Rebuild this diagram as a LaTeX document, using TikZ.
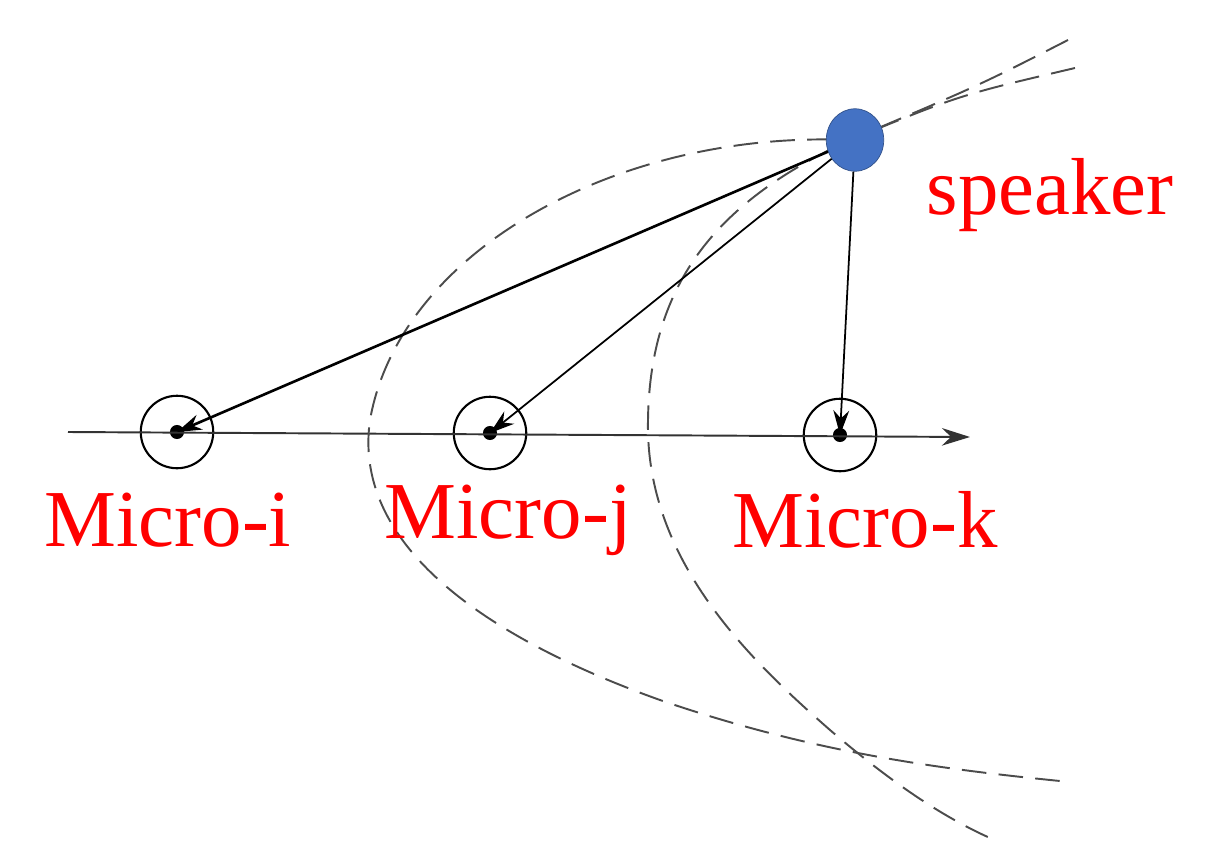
\documentclass[tikz,border=0pt]{standalone}
\usepackage{fontspec}
\setmainfont{Liberation Serif}
\usetikzlibrary{arrows.meta,shapes.geometric}
\definecolor{spk}{RGB}{68,114,196}
\begin{document}
\begin{tikzpicture}[x=0.02cm,y=-0.02cm,
  mic/.style={draw,circle,minimum size=1.45cm,inner sep=0pt,line width=1.2pt},
  lbl/.style={text=red,font=\fontsize{46}{50}\selectfont},
  ray/.style={-{Stealth[length=14pt,width=9pt]},line width=1pt},
  hyp/.style={dashed,dash pattern=on 14pt off 7pt,line width=1.1pt,black!70}]
\useasboundingbox (0,0) rectangle (1224,856);
\node[mic] (mi) at (177,432) {};
\node[mic] (mj) at (490,433) {};
\node[mic] (mk) at (840,435) {};
\fill (mi.center) circle (4pt) (mj.center) circle (4pt) (mk.center) circle (4pt);
\coordinate (a0) at (68,432);
\coordinate (a1) at (970,437);
\draw[-{Stealth[length=16pt,width=10pt]},line width=1.1pt,black!80] (a0) -- (a1);
\draw[hyp] (1068,40) .. controls (980,85) .. (850,140) .. controls (620,130) and (400,250) .. (370,420) .. controls (350,560) and (520,650) .. (660,700) .. controls (820,755) and (950,770) .. (1070,782);
\draw[hyp] (1075,68) .. controls (960,95) .. (850,140) .. controls (720,200) and (650,280) .. (648,420) .. controls (645,560) and (750,660) .. (830,730) .. controls (900,790) and (950,820) .. (990,838);
\node[draw=spk!70!black,fill=spk,ellipse,minimum width=1.15cm,minimum height=1.25cm,inner sep=0pt] (sp) at (855,140) {};
\draw[ray,line width=1.5pt] (sp) -- (mi.center);
\draw[ray] (sp) -- (mj.center);
\draw[ray] (sp) -- (mk.center);
\node[lbl] (ts) at (1050,195) {speaker};
\node[lbl] (ti) at (168,520) {Micro-i};
\node[lbl] (tj) at (508,520) {Micro-j};
\node[lbl] (tk) at (865,520) {Micro-k};
\end{tikzpicture}
\end{document}
